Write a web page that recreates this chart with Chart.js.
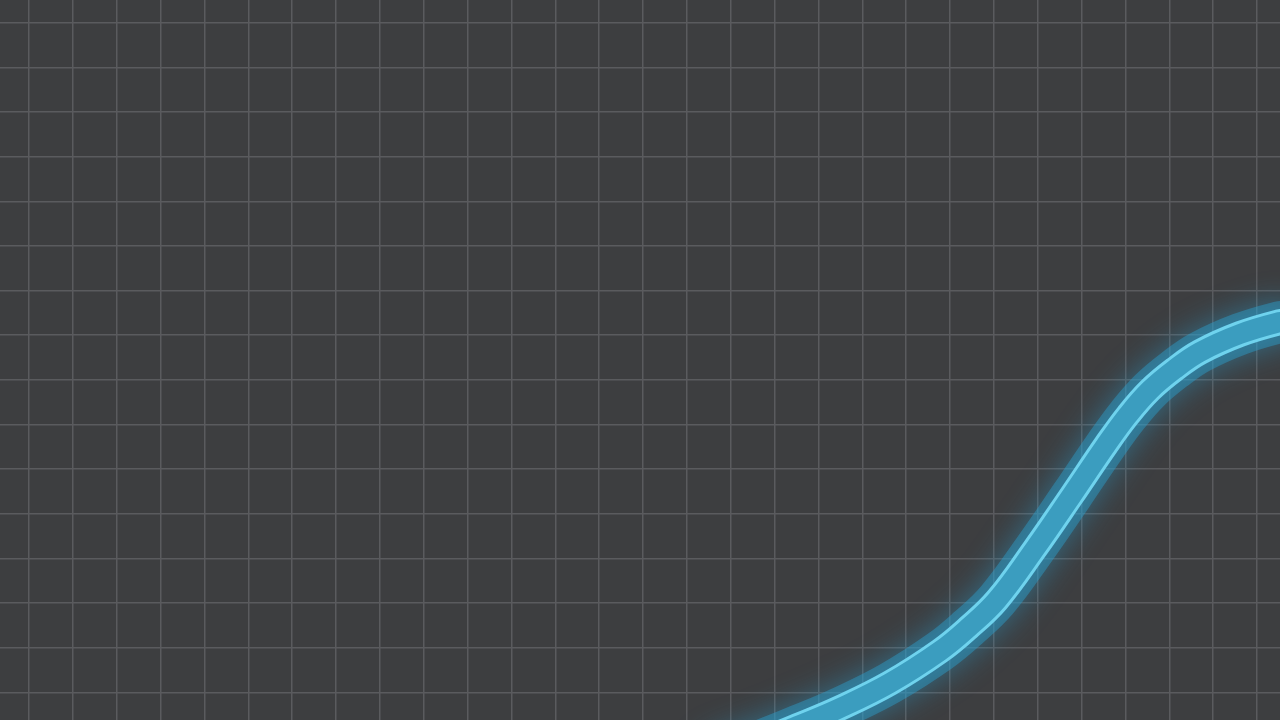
<!DOCTYPE html>
<html>
<head>
<meta charset="utf-8">
<script src="https://cdn.jsdelivr.net/npm/chart.js@4"></script>
<style>
  html, body { margin: 0; padding: 0; background: #3d3e40; }
  #wrap { width: 1280px; height: 720px; position: relative; }
</style>
</head>
<body>
<div id="wrap"><canvas id="glowChart"></canvas></div>
<script>
// curve (x across, height above the bottom edge)
const curveX = [720, 760, 800, 840, 890, 940, 968, 997, 1034, 1072, 1106, 1128, 1150, 1175, 1200, 1240, 1280, 1310];
const curveY = [-35, -21, -5, 12, 37, 69, 92, 120, 170, 225, 275, 305, 330, 351, 368, 386, 398, 404];

// grid spacing (y measured from the top edge)
const gridStartX = 29, gridStepX = 43.86;
const gridStartY = 22.7, gridStepY = 44.65;

const points = curveX.map((x, i) => ({ x: x, y: curveY[i] }));

// glow: shadow blur on selected datasets
const glowPlugin = {
  id: 'glow',
  beforeDatasetDraw(chart, args) {
    const ds = chart.data.datasets[args.index];
    if (!ds.glow) return;
    const ctx = chart.ctx;
    ctx.save();
    ctx.shadowColor = ds.glow.color;
    ctx.shadowBlur = ds.glow.blur;
  },
  afterDatasetDraw(chart, args) {
    const ds = chart.data.datasets[args.index];
    if (!ds.glow) return;
    chart.ctx.restore();
  }
};

function gridTicks(start, step, max, flip) {
  const t = [];
  for (let v = start; v < max; v += step) t.push({ value: flip ? max - v : v });
  return t;
}

const lineBase = {
  data: points,
  pointRadius: 0,
  fill: false,
  tension: 0.4,
  borderCapStyle: 'round',
  borderJoinStyle: 'round'
};

// chart.js paints dataset 0 last, so the core goes first
new Chart(document.getElementById('glowChart'), {
  type: 'line',
  data: {
    datasets: [
      { ...lineBase, borderColor: '#3b9dbf', borderWidth: 20 },
      { ...lineBase, borderColor: '#6fd3ee', borderWidth: 26 },
      { ...lineBase, borderColor: 'rgba(45, 160, 205, 0.45)', borderWidth: 42,
        glow: { color: 'rgba(40, 175, 230, 0.9)', blur: 30 } }
    ]
  },
  options: {
    responsive: true,
    maintainAspectRatio: false,
    animation: false,
    layout: { padding: 0 },
    plugins: {
      legend: { display: false },
      tooltip: { enabled: false }
    },
    scales: {
      x: {
        type: 'linear',
        min: 0,
        max: 1280,
        afterBuildTicks: axis => { axis.ticks = gridTicks(gridStartX, gridStepX, 1280, false); },
        ticks: { display: false },
        border: { display: false },
        grid: { color: '#5a5b5e', lineWidth: 1.5, drawTicks: false }
      },
      y: {
        type: 'linear',
        min: 0,
        max: 720,
        afterBuildTicks: axis => { axis.ticks = gridTicks(gridStartY, gridStepY, 720, true); },
        ticks: { display: false },
        border: { display: false },
        grid: { color: '#5a5b5e', lineWidth: 1.5, drawTicks: false }
      }
    }
  },
  plugins: [glowPlugin]
});
</script>
</body>
</html>
